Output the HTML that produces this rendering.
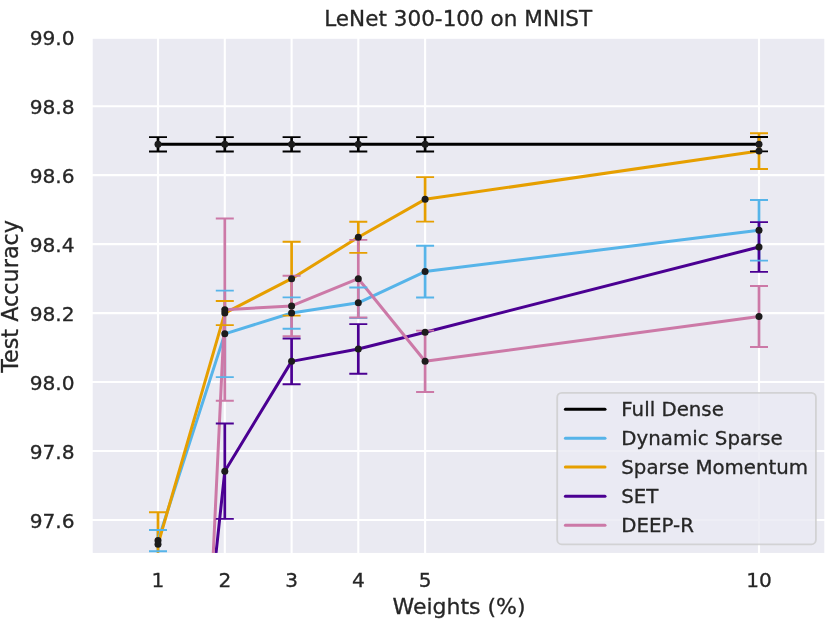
<!DOCTYPE html>
<html><head><meta charset="utf-8"><title>LeNet 300-100 on MNIST</title>
<style>
html,body{margin:0;padding:0;background:#fff;width:830px;height:623px;overflow:hidden}
svg{display:block;font-family:"DejaVu Sans","Liberation Sans",sans-serif}
text{stroke:#262626;stroke-width:0.3px}
</style></head><body>
<svg width="830" height="623" viewBox="0 0 830 623">
<defs><clipPath id="c"><rect x="91.22" y="37.24" width="734.58" height="517.20"/></clipPath></defs>
<rect width="830" height="623" fill="#fff"/>
<rect x="91.22" y="37.24" width="734.58" height="517.20" fill="#EAEAF2"/>
<path d="M158.00 37.24V554.44M224.80 37.24V554.44M291.60 37.24V554.44M358.30 37.24V554.44M425.10 37.24V554.44M759.00 37.24V554.44M91.22 37.24H825.80M91.22 106.20H825.80M91.22 175.16H825.80M91.22 244.12H825.80M91.22 313.08H825.80M91.22 382.04H825.80M91.22 451.00H825.80M91.22 519.96H825.80" stroke="#fff" stroke-width="2.1" fill="none"/>
<g clip-path="url(#c)">
<path d="M158.00 137.10V151.50M224.80 137.10V151.50M291.60 137.10V151.50M358.30 137.10V151.50M425.10 137.10V151.50M759.00 137.00V151.40" stroke="#000000" stroke-width="2.7" fill="none"/>
<path d="M158.00 530.00V551.20M224.80 290.60V377.10M291.60 297.40V328.70M358.30 287.50V318.10M425.10 245.70V297.50M759.00 200.00V260.60" stroke="#56B4E9" stroke-width="2.7" fill="none"/>
<path d="M158.00 512.30V576.30M224.80 301.00V325.10M291.60 241.70V315.60M358.30 221.70V252.90M425.10 177.10V221.60M759.00 133.20V169.00" stroke="#E69F00" stroke-width="2.7" fill="none"/>
<path d="M224.80 423.50V518.90M291.60 338.50V384.20M358.30 324.10V373.80M759.00 222.10V271.90" stroke="#4B0092" stroke-width="2.7" fill="none"/>
<path d="M224.80 218.50V400.80M291.60 275.70V336.10M358.30 239.90V317.50M425.10 330.60V392.00M759.00 286.00V347.00" stroke="#CC79A7" stroke-width="2.7" fill="none"/>
<path d="M158.00 144.30 L224.80 144.30 L291.60 144.30 L358.30 144.30 L425.10 144.30 L759.00 144.20" stroke="#000000" stroke-width="3.0" fill="none" stroke-linejoin="round" stroke-linecap="round"/>
<path d="M158.00 540.60 L224.80 333.85 L291.60 313.05 L358.30 302.80 L425.10 271.60 L759.00 230.30" stroke="#56B4E9" stroke-width="3.0" fill="none" stroke-linejoin="round" stroke-linecap="round"/>
<path d="M158.00 544.30 L224.80 313.05 L291.60 278.65 L358.30 237.30 L425.10 199.35 L759.00 151.10" stroke="#E69F00" stroke-width="3.0" fill="none" stroke-linejoin="round" stroke-linecap="round"/>
<path d="M158.00 1095.00 L224.80 471.20 L291.60 361.35 L358.30 348.95 L425.10 332.20 L759.00 247.00" stroke="#4B0092" stroke-width="3.0" fill="none" stroke-linejoin="round" stroke-linecap="round"/>
<path d="M158.00 1720.00 L224.80 309.65 L291.60 305.90 L358.30 278.70 L425.10 361.30 L759.00 316.50" stroke="#CC79A7" stroke-width="3.0" fill="none" stroke-linejoin="round" stroke-linecap="round"/>
<path d="M149.00 137.10H167.00M149.00 151.50H167.00M215.80 137.10H233.80M215.80 151.50H233.80M282.60 137.10H300.60M282.60 151.50H300.60M349.30 137.10H367.30M349.30 151.50H367.30M416.10 137.10H434.10M416.10 151.50H434.10M750.00 137.00H768.00M750.00 151.40H768.00" stroke="#000000" stroke-width="1.9" fill="none"/>
<path d="M149.00 530.00H167.00M149.00 551.20H167.00M215.80 290.60H233.80M215.80 377.10H233.80M282.60 297.40H300.60M282.60 328.70H300.60M349.30 287.50H367.30M349.30 318.10H367.30M416.10 245.70H434.10M416.10 297.50H434.10M750.00 200.00H768.00M750.00 260.60H768.00" stroke="#56B4E9" stroke-width="1.9" fill="none"/>
<path d="M149.00 512.30H167.00M149.00 576.30H167.00M215.80 301.00H233.80M215.80 325.10H233.80M282.60 241.70H300.60M282.60 315.60H300.60M349.30 221.70H367.30M349.30 252.90H367.30M416.10 177.10H434.10M416.10 221.60H434.10M750.00 133.20H768.00M750.00 169.00H768.00" stroke="#E69F00" stroke-width="1.9" fill="none"/>
<path d="M215.80 423.50H233.80M215.80 518.90H233.80M282.60 338.50H300.60M282.60 384.20H300.60M349.30 324.10H367.30M349.30 373.80H367.30M750.00 222.10H768.00M750.00 271.90H768.00" stroke="#4B0092" stroke-width="1.9" fill="none"/>
<path d="M215.80 218.50H233.80M215.80 400.80H233.80M282.60 275.70H300.60M282.60 336.10H300.60M349.30 239.90H367.30M349.30 317.50H367.30M416.10 330.60H434.10M416.10 392.00H434.10M750.00 286.00H768.00M750.00 347.00H768.00" stroke="#CC79A7" stroke-width="1.9" fill="none"/>
<circle cx="158.00" cy="144.30" r="3.5" fill="#1c1c1c"/>
<circle cx="224.80" cy="144.30" r="3.5" fill="#1c1c1c"/>
<circle cx="291.60" cy="144.30" r="3.5" fill="#1c1c1c"/>
<circle cx="358.30" cy="144.30" r="3.5" fill="#1c1c1c"/>
<circle cx="425.10" cy="144.30" r="3.5" fill="#1c1c1c"/>
<circle cx="759.00" cy="144.20" r="3.5" fill="#1c1c1c"/>
<circle cx="158.00" cy="540.60" r="3.5" fill="#1c1c1c"/>
<circle cx="224.80" cy="333.85" r="3.5" fill="#1c1c1c"/>
<circle cx="291.60" cy="313.05" r="3.5" fill="#1c1c1c"/>
<circle cx="358.30" cy="302.80" r="3.5" fill="#1c1c1c"/>
<circle cx="425.10" cy="271.60" r="3.5" fill="#1c1c1c"/>
<circle cx="759.00" cy="230.30" r="3.5" fill="#1c1c1c"/>
<circle cx="158.00" cy="544.30" r="3.5" fill="#1c1c1c"/>
<circle cx="224.80" cy="313.05" r="3.5" fill="#1c1c1c"/>
<circle cx="291.60" cy="278.65" r="3.5" fill="#1c1c1c"/>
<circle cx="358.30" cy="237.30" r="3.5" fill="#1c1c1c"/>
<circle cx="425.10" cy="199.35" r="3.5" fill="#1c1c1c"/>
<circle cx="759.00" cy="151.10" r="3.5" fill="#1c1c1c"/>
<circle cx="158.00" cy="1095.00" r="3.5" fill="#1c1c1c"/>
<circle cx="224.80" cy="471.20" r="3.5" fill="#1c1c1c"/>
<circle cx="291.60" cy="361.35" r="3.5" fill="#1c1c1c"/>
<circle cx="358.30" cy="348.95" r="3.5" fill="#1c1c1c"/>
<circle cx="425.10" cy="332.20" r="3.5" fill="#1c1c1c"/>
<circle cx="759.00" cy="247.00" r="3.5" fill="#1c1c1c"/>
<circle cx="158.00" cy="1720.00" r="3.5" fill="#1c1c1c"/>
<circle cx="224.80" cy="309.65" r="3.5" fill="#1c1c1c"/>
<circle cx="291.60" cy="305.90" r="3.5" fill="#1c1c1c"/>
<circle cx="358.30" cy="278.70" r="3.5" fill="#1c1c1c"/>
<circle cx="425.10" cy="361.30" r="3.5" fill="#1c1c1c"/>
<circle cx="759.00" cy="316.50" r="3.5" fill="#1c1c1c"/>
</g>
<rect x="91.22" y="37.24" width="734.58" height="517.20" fill="none" stroke="#fff" stroke-width="3.0"/>
<rect x="557.2" y="392.9" width="258.7" height="151.4" rx="4.5" fill="#EAEAF2" fill-opacity="0.8" stroke="#cccccc" stroke-opacity="0.8" stroke-width="1.8"/>
<path d="M565.4 409.3H605" stroke="#000000" stroke-width="3.0" stroke-linecap="round"/>
<text x="621.3" y="415.7" font-size="19.8" fill="#262626">Full Dense</text>
<path d="M565.4 438.2H605" stroke="#56B4E9" stroke-width="3.0" stroke-linecap="round"/>
<text x="621.3" y="444.6" font-size="19.8" fill="#262626">Dynamic Sparse</text>
<path d="M565.4 467.1H605" stroke="#E69F00" stroke-width="3.0" stroke-linecap="round"/>
<text x="621.3" y="473.5" font-size="19.8" fill="#262626">Sparse Momentum</text>
<path d="M565.4 496.3H605" stroke="#4B0092" stroke-width="3.0" stroke-linecap="round"/>
<text x="621.3" y="502.7" font-size="19.8" fill="#262626">SET</text>
<path d="M565.4 525.3H605" stroke="#CC79A7" stroke-width="3.0" stroke-linecap="round"/>
<text x="621.3" y="531.7" font-size="19.8" fill="#262626">DEEP-R</text>
<text x="74.6" y="45.1" font-size="20.2" fill="#262626" text-anchor="end">99.0</text>
<text x="74.6" y="114.1" font-size="20.2" fill="#262626" text-anchor="end">98.8</text>
<text x="74.6" y="183.1" font-size="20.2" fill="#262626" text-anchor="end">98.6</text>
<text x="74.6" y="252.0" font-size="20.2" fill="#262626" text-anchor="end">98.4</text>
<text x="74.6" y="321.0" font-size="20.2" fill="#262626" text-anchor="end">98.2</text>
<text x="74.6" y="389.9" font-size="20.2" fill="#262626" text-anchor="end">98.0</text>
<text x="74.6" y="458.9" font-size="20.2" fill="#262626" text-anchor="end">97.8</text>
<text x="74.6" y="527.9" font-size="20.2" fill="#262626" text-anchor="end">97.6</text>
<text x="158.00" y="586.7" font-size="20.1" fill="#262626" text-anchor="middle">1</text>
<text x="224.80" y="586.7" font-size="20.1" fill="#262626" text-anchor="middle">2</text>
<text x="291.60" y="586.7" font-size="20.1" fill="#262626" text-anchor="middle">3</text>
<text x="358.30" y="586.7" font-size="20.1" fill="#262626" text-anchor="middle">4</text>
<text x="425.10" y="586.7" font-size="20.1" fill="#262626" text-anchor="middle">5</text>
<text x="759.00" y="586.7" font-size="20.1" fill="#262626" text-anchor="middle">10</text>
<text x="458.21" y="26.1" font-size="21.55" fill="#262626" text-anchor="middle">LeNet 300-100 on MNIST</text>
<text x="459.01" y="614.2" font-size="22" fill="#262626" text-anchor="middle">Weights (%)</text>
<text transform="translate(17.8 296.4) rotate(-90)" x="0" y="0" font-size="22.3" fill="#262626" text-anchor="middle">Test Accuracy</text>
</svg>
</body></html>
